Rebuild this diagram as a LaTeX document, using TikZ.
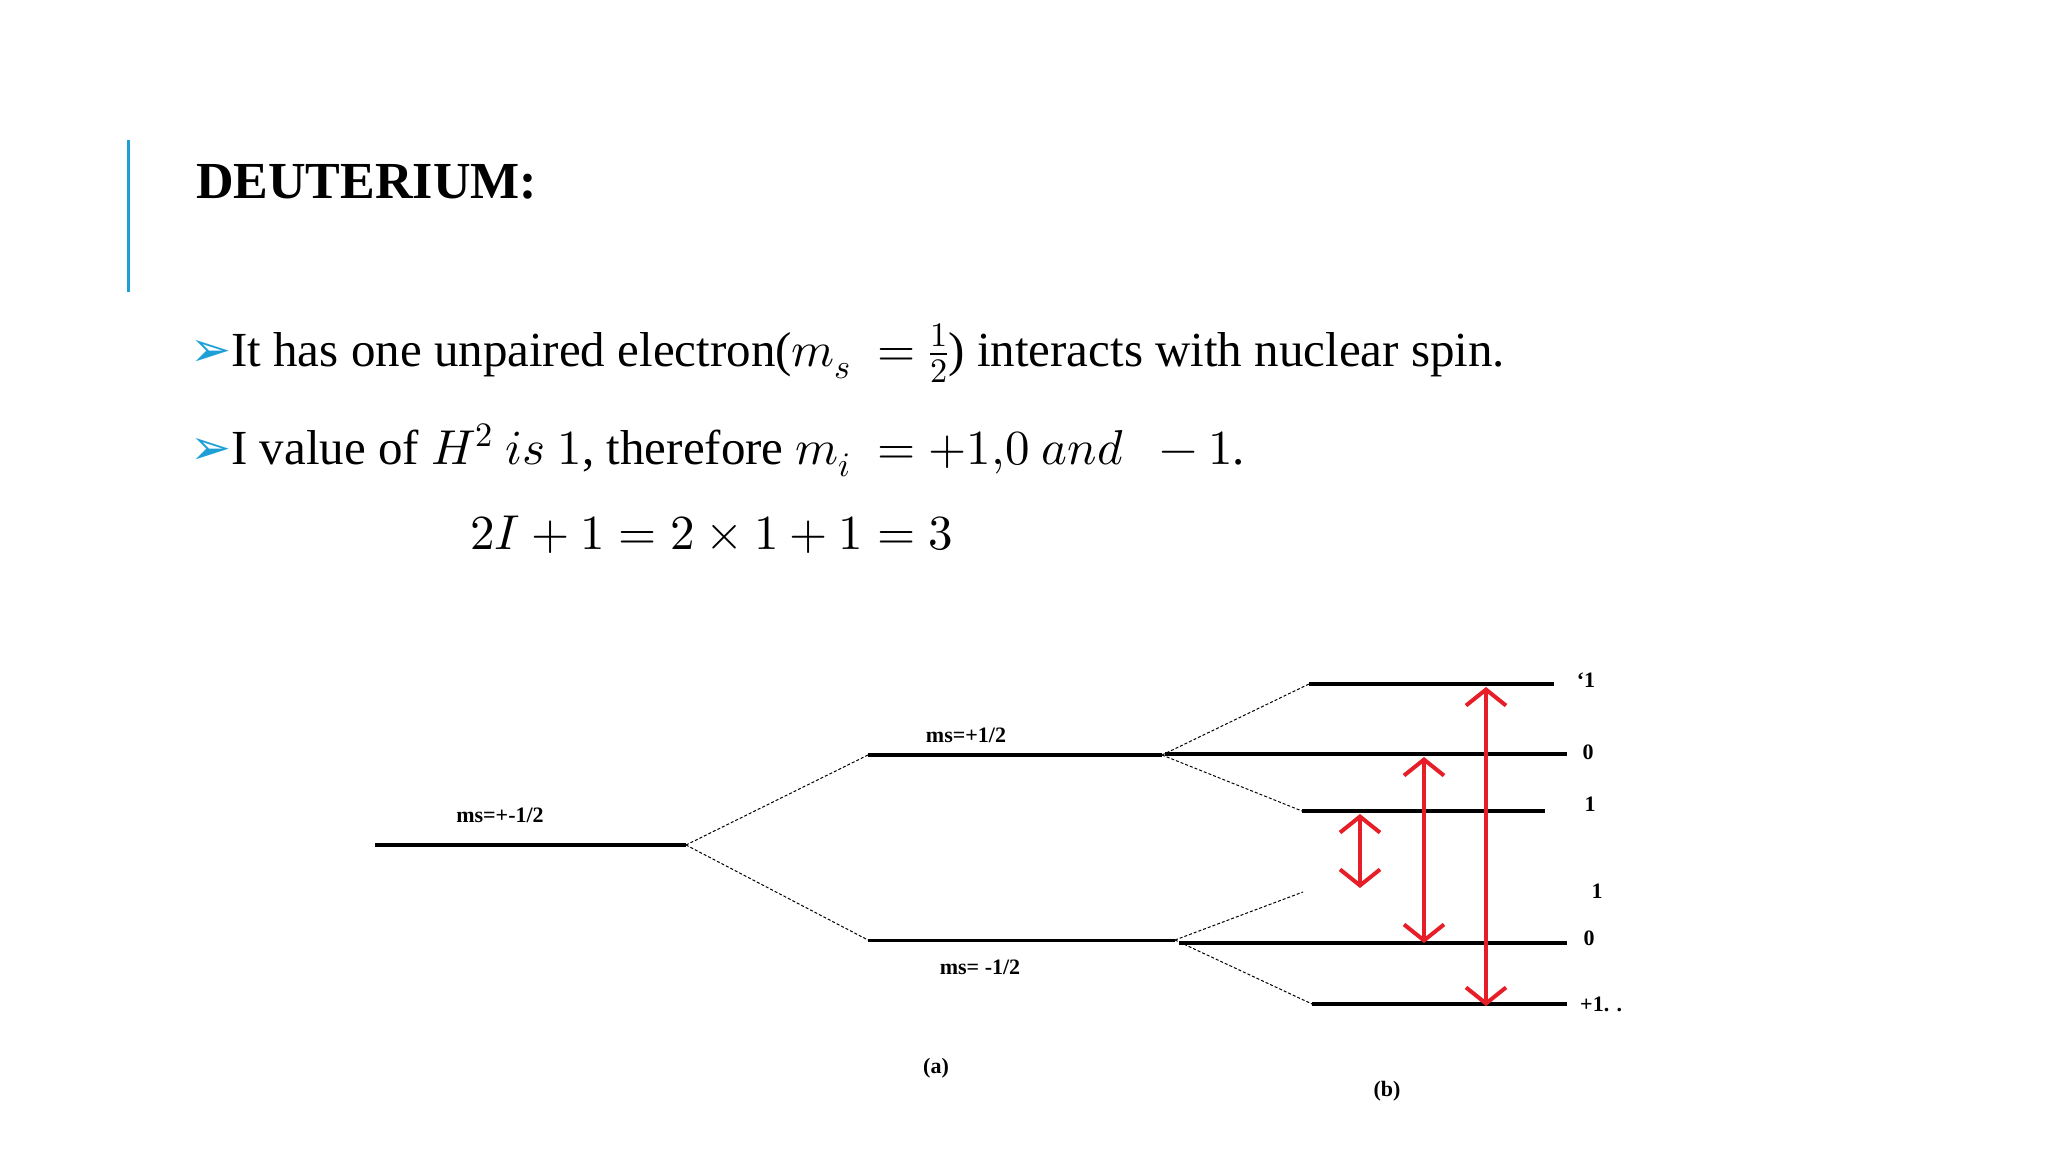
\documentclass[tikz,border=0pt]{standalone}
\usepackage{fontspec}
\usepackage{unicode-math}
\setmainfont{Liberation Serif}
\setmathfont{Latin Modern Math}
\newfontfamily\dejavu{DejaVu Sans}
\usetikzlibrary{arrows.meta}
\definecolor{accent}{RGB}{30,160,215}
\definecolor{arrred}{RGB}{230,30,40}
\tikzset{
 lvl/.style={line width=4pt},
 lvlthin/.style={line width=3pt},
 split/.style={densely dashed,line width=1pt},
 lab/.style={font=\fontsize{22}{24}\selectfont\bfseries,inner sep=0},
 trans/.style={arrred,line width=4pt,{Straight Barb[length=16pt,width=40pt,line width=4pt]}-{Straight Barb[length=16pt,width=40pt,line width=4pt]}},
 body/.style={anchor=base west,inner sep=0,font=\fontsize{49}{55}\selectfont}
}
\begin{document}
\begin{tikzpicture}[x=1pt,y=-1pt]
\useasboundingbox (0,0) rectangle (2048,1152);
\draw[accent,line width=3pt] (128,140) -- (128,292);
\node[anchor=base west,inner sep=0,font=\fontsize{52}{58}\selectfont\bfseries] (title) at (196,198) {DEUTERIUM:};
\node[body] (l1) at (190,366) {{\dejavu\color{accent}➢}It has one unpaired electron($m_s\ =\frac{1}{2}$) interacts with nuclear spin.};
\node[body] (l2) at (190,464) {{\dejavu\color{accent}➢}I value of $H^2\ is\ 1$, therefore $m_i\ =+1{,}0\ and\ \ -1$.};
\node[body] (l3) at (470,549) {$2I+1=2\times1+1=3$};
% levels
\coordinate (L0) at (375,845); \coordinate (L1) at (686,845);
\coordinate (U0) at (868,755); \coordinate (U1) at (1162,755);
\coordinate (D0) at (868,940); \coordinate (D1) at (1175,940);
\draw[lvl] (L0) -- (L1);
\draw[lvl] (U0) -- (U1);
\draw[lvlthin] (D0) -- (D1);
\node[lab] (la) at (500,815) {ms=+-1/2};
\node[lab] (lb) at (966,735) {ms=+1/2};
\node[lab] (lc) at (980,967) {ms= -1/2};
\draw[split] (L1) -- (U0);
\draw[split] (L1) -- (D0);
% right levels
\coordinate (T0) at (1309,684); \coordinate (T1) at (1554,684);
\coordinate (M0) at (1165,754); \coordinate (M1) at (1567,754);
\coordinate (N0) at (1302,811); \coordinate (N1) at (1545,811);
\coordinate (G) at (1303,892);
\coordinate (P0) at (1179,943); \coordinate (P1) at (1567,943);
\coordinate (Q0) at (1312,1004); \coordinate (Q1) at (1567,1004);
\draw[lvl] (T0) -- (T1);
\draw[lvl] (M0) -- (M1);
\draw[lvl] (N0) -- (N1);
\draw[lvl] (P0) -- (P1);
\draw[lvl] (Q0) -- (Q1);
\draw[split] (U1) -- (T0);
\draw[split] (U1) -- (N0);
\draw[split] (D1) -- (G);
\draw[split] (D1) -- (Q0);
\node[lab] (r1) at (1586,680) {`1};
\node[lab] (r2) at (1588,752) {0};
\node[lab] (r3) at (1590,804) {1};
\node[lab] (r4) at (1597,891) {1};
\node[lab] (r5) at (1589,938) {0};
\node[lab,anchor=west] (r6) at (1580,1004) {+1. .};
% transitions
\coordinate (a1) at (1360,814); \coordinate (a2) at (1360,888);
\coordinate (b1) at (1424,757); \coordinate (b2) at (1424,943);
\coordinate (c1) at (1486,687); \coordinate (c2) at (1486,1006);
\draw[trans] (a1) -- (a2);
\draw[trans] (b1) -- (b2);
\draw[trans] (c1) -- (c2);
\node[lab] (ca) at (936,1068) {(a)};
\node[lab] (cb) at (1387,1091) {(b)};
\end{tikzpicture}
\end{document}
